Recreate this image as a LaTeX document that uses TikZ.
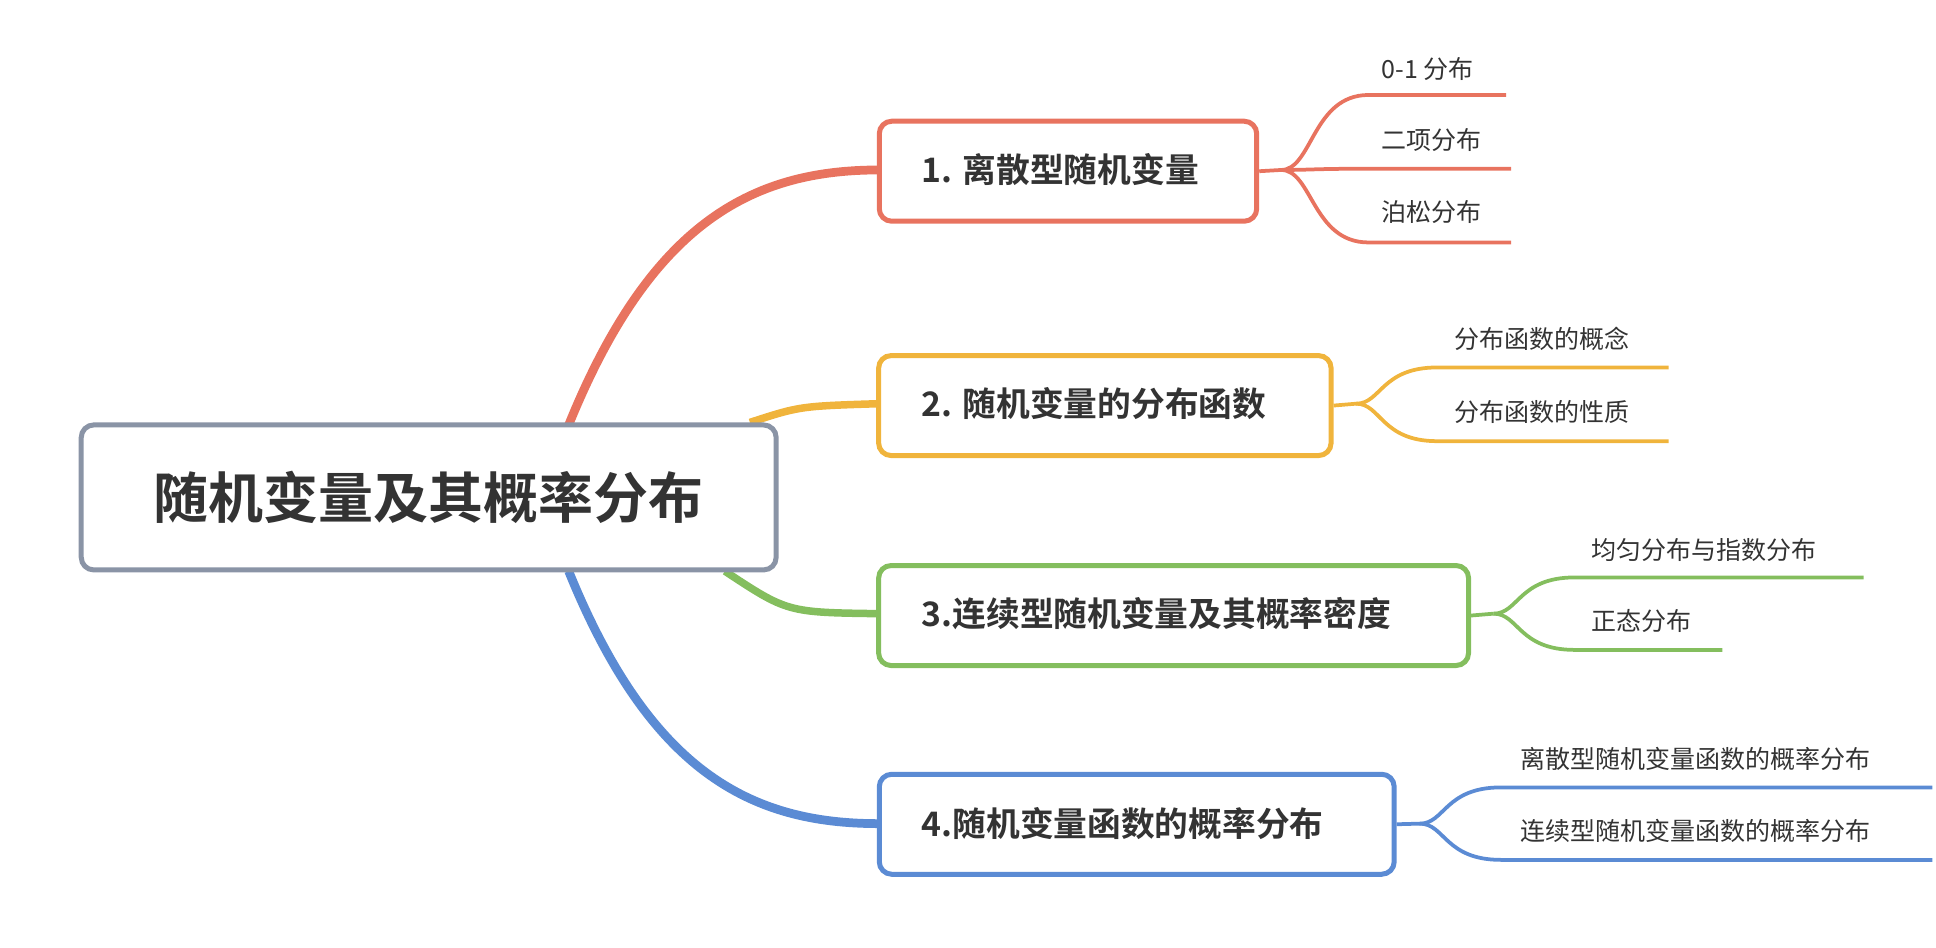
\documentclass[tikz,border=0pt]{standalone}
\usepackage{fontspec}
\setmainfont{Noto Sans CJK SC}
\newfontfamily\cjkb{Noto Sans CJK SC Bold}
\definecolor{cR}{HTML}{E8735F}
\definecolor{cY}{HTML}{F0B43C}
\definecolor{cG}{HTML}{84BE5E}
\definecolor{cB}{HTML}{5B8BD4}
\definecolor{cC}{HTML}{8A94A6}
\definecolor{tx}{HTML}{333333}
\begin{document}
\begin{tikzpicture}[x=0.5pt,y=-0.5pt,
 box/.style={draw,line width=2pt,rounded corners=5pt,fill=white},
 btxt/.style={anchor=west,text=tx,font=\cjkb\fontsize{13.5}{16}\selectfont,inner sep=0},
 ltxt/.style={anchor=west,text=tx,font=\fontsize{10}{12}\selectfont,inner sep=0},
 leaf/.style={line width=1.5pt}]
\useasboundingbox (0,0) rectangle (1549,758);
% main connectors
\coordinate (r0) at (455,340); \coordinate (y0) at (600,338);
\coordinate (g0) at (580,457); \coordinate (b0) at (455,457);
\coordinate (r1) at (703,136); \coordinate (y1) at (703,323);
\coordinate (g1) at (703,491); \coordinate (b1) at (703,659);
\draw[cR,line width=3.5pt] (r0) .. controls (520,180) and (600,136) .. (r1);
\draw[cY,line width=3pt] (y0) .. controls (640,325) .. (y1);
\draw[cG,line width=3pt] (g0) .. controls (630,490) .. (g1);
\draw[cB,line width=3.5pt] (b0) .. controls (520,617) and (600,659) .. (b1);
% central
\node[box,draw=cC,minimum width=278pt,minimum height=58pt,text=tx,font=\cjkb\fontsize{22}{26}\selectfont] (c) at (343,398) {随机变量及其概率分布};
% branches
\node[box,draw=cR,minimum width=151pt,minimum height=40pt] (n1) at (854.5,137) {};
\node[btxt] at (737,136) {1. 离散型随机变量};
\node[box,draw=cY,minimum width=181pt,minimum height=40pt] (n2) at (884,324.5) {};
\node[btxt] at (737,323) {2. 随机变量的分布函数};
\node[box,draw=cG,minimum width=236pt,minimum height=40pt] (n3) at (939,492.5) {};
\node[btxt] at (737,491) {3.连续型随机变量及其概率密度};
\node[box,draw=cB,minimum width=206pt,minimum height=40pt] (n4) at (909.5,659.5) {};
\node[btxt] at (737,659) {4.随机变量函数的概率分布};
% leaves 1
\coordinate (a1) at (1025,136);
\draw[cR,leaf] (n1.east) -- (a1);
\foreach \y/\e in {76/1205,135/1209,194/1209}{\draw[cR,leaf] (a1) .. controls (1050,136) and (1050,\y) .. (1095,\y) -- (\e,\y);}
\node[ltxt] at (1105,55) {0-1 分布};
\node[ltxt] at (1105,112) {二项分布};
\node[ltxt] at (1105,170) {泊松分布};
% leaves 2
\coordinate (a2) at (1085,323);
\draw[cY,leaf] (n2.east) -- (a2);
\foreach \y in {294,353}{\draw[cY,leaf] (a2) .. controls (1105,323) and (1105,\y) .. (1150,\y) -- (1335,\y);}
\node[ltxt] at (1163,271) {分布函数的概念};
\node[ltxt] at (1163,330) {分布函数的性质};
% leaves 3
\coordinate (a3) at (1195,491);
\draw[cG,leaf] (n3.east) -- (a3);
\foreach \y/\e in {462/1491,520/1378}{\draw[cG,leaf] (a3) .. controls (1215,491) and (1215,\y) .. (1260,\y) -- (\e,\y);}
\node[ltxt] at (1273,440) {均匀分布与指数分布};
\node[ltxt] at (1273,497) {正态分布};
% leaves 4
\coordinate (a4) at (1136,659);
\draw[cB,leaf] (n4.east) -- (a4);
\foreach \y in {630,688}{\draw[cB,leaf] (a4) .. controls (1156,659) and (1156,\y) .. (1201,\y) -- (1546,\y);}
\node[ltxt] at (1216,607) {离散型随机变量函数的概率分布};
\node[ltxt] at (1216,665) {连续型随机变量函数的概率分布};
\end{tikzpicture}
\end{document}
